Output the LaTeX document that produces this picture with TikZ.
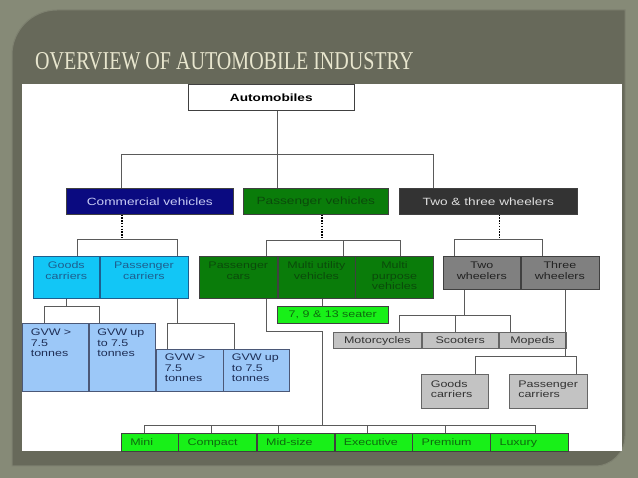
\documentclass[tikz,border=0pt]{standalone}
\usepackage{fontspec}
\usepackage{tikz}
\usetikzlibrary{positioning}
\newfontfamily\boxfont[FakeStretch=1.3]{Liberation Sans}
\newfontfamily\titlefont[FakeStretch=0.78]{Liberation Serif}
\definecolor{backdrop}{HTML}{868A77}
\definecolor{panel}{HTML}{67695A}
\definecolor{panelrim}{HTML}{7E8170}
\definecolor{titletext}{HTML}{E8E6CE}
\definecolor{navy}{HTML}{0A0A80}
\definecolor{navytext}{HTML}{C8CCF5}
\definecolor{leaf}{HTML}{0A7C0A}
\definecolor{leaftext}{HTML}{0A4A0A}
\definecolor{coal}{HTML}{333333}
\definecolor{coaltext}{HTML}{E0E0E0}
\definecolor{sky}{HTML}{12C6F6}
\definecolor{skytext}{HTML}{1E5E8E}
\definecolor{pale}{HTML}{9CC8F8}
\definecolor{paletext}{HTML}{1E2E55}
\definecolor{lime}{HTML}{18F018}
\definecolor{limetext}{HTML}{0E6A0E}
\definecolor{stone}{HTML}{808080}
\definecolor{stonetext}{HTML}{222222}
\definecolor{mist}{HTML}{C3C3C3}
\definecolor{misttext}{HTML}{333333}
\definecolor{wire}{HTML}{5A5A5A}
\tikzstyle{bx} = [draw=black!75, line width=0.6pt, anchor=north west, inner sep=0pt, align=center, font=\boxfont\fontsize{9.6}{10.6}\selectfont]
\tikzstyle{big} = [font=\boxfont\fontsize{10.5}{12}\selectfont, minimum height=26pt]
\tikzstyle{navybx} = [bx, fill=navy, text=navytext]
\tikzstyle{leafbx} = [bx, fill=leaf, text=leaftext]
\tikzstyle{coalbx} = [bx, fill=coal, text=coaltext]
\tikzstyle{skybx} = [bx, fill=sky, text=skytext, draw=skytext]
\tikzstyle{palebx} = [bx, fill=pale, text=paletext, draw=paletext!80, align=left, inner xsep=8.5pt]
\tikzstyle{limebx} = [bx, fill=lime, text=limetext]
\tikzstyle{segbx} = [limebx, align=left, inner xsep=9pt, text height=12.6pt, text depth=5.4pt]
\tikzstyle{stonebx} = [bx, fill=stone, text=stonetext]
\tikzstyle{mistbx} = [bx, fill=mist, text=misttext, draw=black!60]
\tikzstyle{link} = [draw=wire, line width=0.9pt]
\tikzstyle{dotline} = [draw=black, line width=1.4pt, dash pattern=on 1.4pt off 1.4pt]

\begin{document}
\begin{tikzpicture}[x=1pt, y=-1pt]
\useasboundingbox (0,0) rectangle (638,478);
% slide
\fill[backdrop] (0,0) rectangle (638,478);
\filldraw[fill=panel, draw=panelrim, line width=1pt] (12,300) [rounded corners=45pt] -- (12,10) -- (300,10) [sharp corners] -- (625,10) -- (625,300) [rounded corners=30pt] -- (625,466) -- (300,466) [sharp corners] -- (12,466) -- cycle;
\fill[white] (22,84) rectangle (622,451);
\node[anchor=base west, inner sep=0pt, text=titletext, font=\titlefont\fontsize{25.7}{28}\selectfont] (T) at (35,70) {OVERVIEW OF AUTOMOBILE INDUSTRY};

% top levels
\node[bx, big, fill=white, text=black, minimum width=166pt, font=\boxfont\bfseries\fontsize{10.5}{12}\selectfont] (A) at (188,84) {Automobiles};
\node[navybx, big, minimum width=167pt] (CV) at (66,188) {Commercial vehicles};
\node[leafbx, big, minimum width=145pt] (PV) at (243,188) {Passenger vehicles};
\node[coalbx, big, minimum width=178pt] (TT) at (399,188) {Two \& three wheelers};

% commercial
\node[skybx, text width=66pt, text height=12.5pt, text depth=29.5pt] (GC) at (33,256) {Goods\\carriers};
\node[skybx, text width=88pt, text height=12.5pt, text depth=29.5pt, right=0pt of GC] (PC) {Passenger\\carriers};
\node[palebx, text width=49pt, text height=12.3pt, text depth=55.7pt] (G1) at (22,323) {GVW >\\7.5\\tonnes};
\node[palebx, text width=49pt, text height=12.3pt, text depth=55.7pt, right=0pt of G1] (G2) {GVW up\\to 7.5\\tonnes};
\node[palebx, text width=49.5pt, text height=11.3pt, text depth=30.7pt] (G3) at (156,349) {GVW >\\7.5\\tonnes};
\node[palebx, text width=49pt, text height=11.3pt, text depth=30.7pt, right=0pt of G3] (G4) {GVW up\\to 7.5\\tonnes};

% passenger
\node[leafbx, text width=78pt, text height=12.5pt, text depth=29.5pt] (PCR) at (199,256) {Passenger\\cars};
\node[leafbx, text width=77pt, text height=12.5pt, text depth=29.5pt, right=0pt of PCR] (MU) {Multi utility\\vehicles};
\node[leafbx, text width=78pt, text height=12.5pt, text depth=29.5pt, right=0pt of MU] (MP) {Multi\\purpose\\vehicles};
\node[limebx, minimum width=111pt, minimum height=17pt] (ST) at (277,306) {7, 9 \& 13 seater};

% two and three wheelers
\node[stonebx, text width=77pt, text height=12.5pt, text depth=20.5pt] (TW) at (443,256) {Two\\wheelers};
\node[stonebx, text width=78pt, text height=12.5pt, text depth=20.5pt, right=0pt of TW] (TH) {Three\\wheelers};
\node[mistbx, minimum width=88pt, minimum height=16.5pt] (MC) at (333,332) {Motorcycles};
\node[mistbx, minimum width=76.5pt, minimum height=16.5pt, right=0pt of MC] (SC) {Scooters};
\node[mistbx, minimum width=67pt, minimum height=16.5pt, right=0pt of SC] (MO) {Mopeds};
\node[mistbx, align=left, inner xsep=9.5pt, text width=48pt, text height=13pt, text depth=21pt] (TG) at (421,374) {Goods\\carriers};
\node[mistbx, align=left, inner xsep=9pt, text width=60pt, text height=13pt, text depth=21pt] (TP) at (509,374) {Passenger\\carriers};

% segments
\node[segbx, text width=38.7pt] (S1) at (121,433) {Mini};
\node[segbx, text width=60pt, right=0pt of S1] (S2) {Compact};
\node[segbx, text width=59pt, right=0pt of S2] (S3) {Mid-size};
\node[segbx, text width=59.3pt, right=0pt of S3] (S4) {Executive};
\node[segbx, text width=59.3pt, right=0pt of S4] (S5) {Premium};
\node[segbx, text width=59.7pt, right=0pt of S5] (S6) {Luxury};

% connectors
\draw[link] ([xshift=-28pt]CV.north) -- ++(0,-34) -| ([xshift=-55pt]TT.north);
\draw[link] ([xshift=6pt]A.south) -- ([xshift=6pt]A.south |- PV.north);
\draw[dotline] ([xshift=-28pt]CV.south) -- ++(0,25);
\draw[dotline] ([xshift=6pt]PV.south) -- ++(0,26);
\draw[dotline] ([xshift=11pt]TT.south) -- ++(0,25);
\draw[link] ([xshift=11pt]GC.north) -- ++(0,-17) -| ([xshift=34pt]PC.north);
\draw[link] (GC.south) -- ++(0,8);
\draw[link] ([xshift=-11pt]G1.north) -- ++(0,-17) -| ([xshift=-22pt]G2.north);
\draw[link] ([xshift=34pt]PC.south) -- ++(0,25);
\draw[link] ([xshift=-22.5pt]G3.north) -- ++(0,-26) -| ([xshift=-22pt]G4.north);
\draw[link] ([xshift=28pt]PCR.north) -- ++(0,-16) -| ([xshift=6pt]MP.north);
\draw[link] ([xshift=27pt]MU.north) -- ++(0,-16);
\draw[link] ([xshift=6pt]MU.south) -- ([xshift=6pt]MU.south |- ST.north);
\draw[link] ([xshift=28pt]PCR.south) -- ++(0,33) -- ++(55.7,0) -- ++(0,94);
\draw[link] ([xshift=-5pt]S1.north) -- ++(0,-8) -| ([xshift=5.5pt]S6.north);
\draw[link] ([xshift=-5.7pt]S2.north) -- ++(0,-8);
\draw[link] ([xshift=-17.5pt]S3.north) -- ++(0,-8);
\draw[link] ([xshift=-5.6pt]S4.north) -- ++(0,-8);
\draw[link] ([xshift=-6pt]S5.north) -- ++(0,-8);
\draw[link] ([xshift=-27pt]TW.north) -- ++(0,-17) -| ([xshift=-17pt]TH.north);
\draw[link] ([xshift=-17pt]TW.south) -- ++(0,26);
\draw[link] ([xshift=22pt]MC.north) -- ++(0,-17) -| ([xshift=-22pt]MO.north);
\draw[link] ([xshift=-5pt]SC.north) -- ++(0,-17);
\draw[link] ([xshift=6pt]TH.south) -- ++(0,67);
\draw[link] ([xshift=21pt]TG.north) -- ++(0,-18) -| ([xshift=28pt]TP.north);
\end{tikzpicture}
\end{document}
